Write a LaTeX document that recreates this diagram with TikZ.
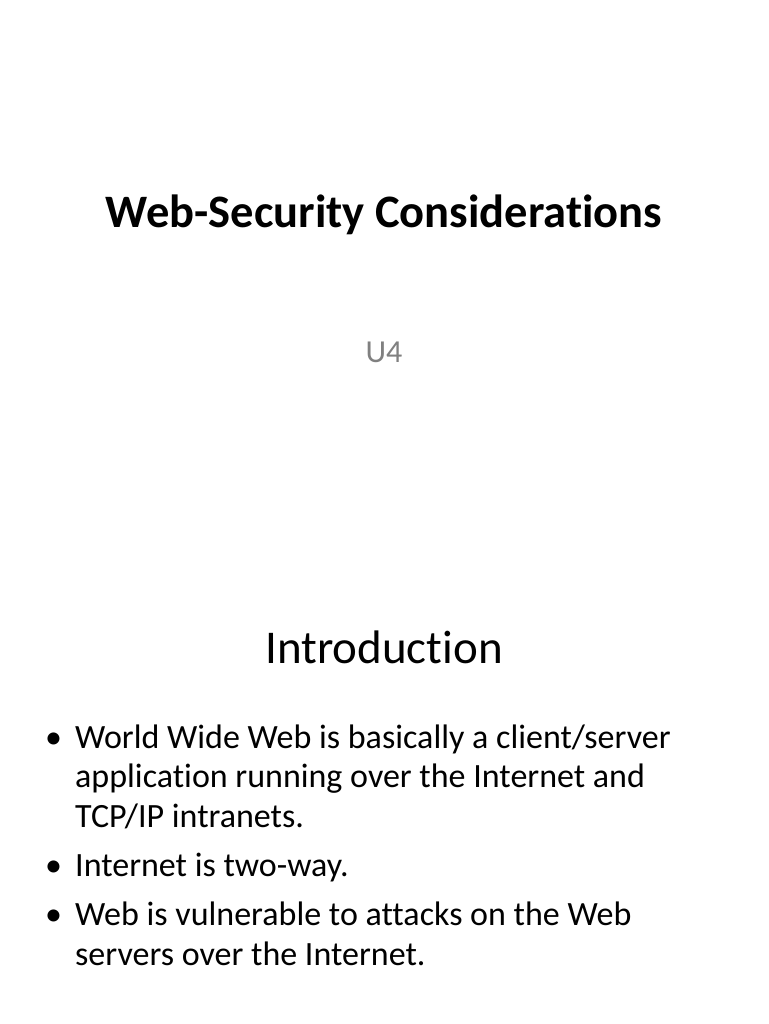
\documentclass[tikz,border=0pt]{standalone}
\usepackage{fontspec}
\setmainfont{Carlito}[Ligatures={NoCommon}]
\begin{document}
\begin{tikzpicture}[x=1pt,y=-1pt]
\tikzset{bul/.style={anchor=base west,font=\fontsize{34}{40}\selectfont,inner sep=0}}
\useasboundingbox[fill=white] (0,0) rectangle (768,1024);
\node[anchor=base,font=\fontsize{46.5}{54}\selectfont\bfseries,inner sep=0] (title) at (384,228) {Web-Security Considerations};
\node[anchor=base,font=\fontsize{32}{38}\selectfont,text=black!50,inner sep=0] (u4) at (384,362) {U4};
\node[anchor=base,font=\fontsize{47}{56}\selectfont,inner sep=0] (intro) at (384,663) {Introduction};
\node[bul] (b1) at (45,748) {•};
\node[bul] (l1) at (75,748) {World Wide Web is basically a client/server};
\node[bul] (l2) at (75,787) {application running over the Internet and};
\node[bul] (l3) at (75,827) {TCP/IP intranets.};
\node[bul] (b2) at (45,876) {•};
\node[bul] (l4) at (75,876) {Internet is two-way.};
\node[bul] (b3) at (45,925) {•};
\node[bul] (l5) at (75,925) {Web is vulnerable to attacks on the Web};
\node[bul] (l6) at (75,965) {servers over the Internet.};
\end{tikzpicture}
\end{document}
